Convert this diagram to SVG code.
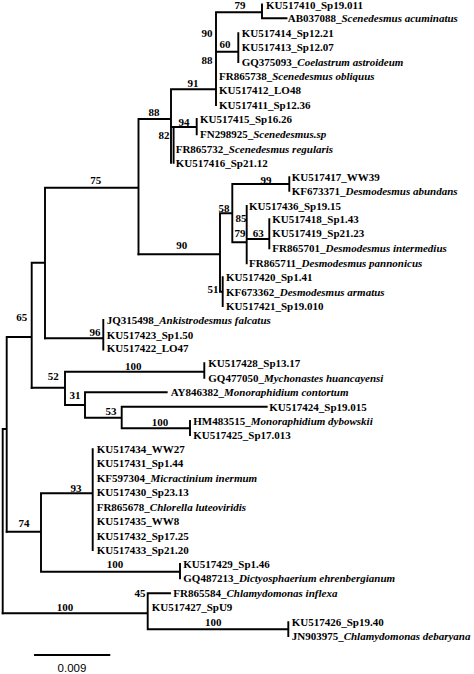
<svg xmlns="http://www.w3.org/2000/svg" width="474" height="674" viewBox="0 0 474 674">
<style>
text{font-family:"Liberation Serif","Times New Roman",serif;font-weight:bold;font-size:11px;fill:#000}
.bs{text-anchor:middle}
.i{font-style:italic}
.br{fill:none;stroke:#000;stroke-width:1.9;stroke-linecap:square}
.sc{font-family:"Liberation Sans",Arial,sans-serif;font-weight:normal;font-size:11.5px;text-anchor:middle}
</style>
<rect width="474" height="674" fill="#fff"/>
<g id="connectors" class="br">
<path d="M2.7,429V613.3M2.7,429H6.7M6.7,337V531.7M6.7,337H31.7M31.7,262.7V387.7M31.7,262.7H45M45,187.7V338.3M45,187.7H138.5M138.5,119V254.3M138.5,119H171M171,89.3V162.7M171,89.3H216M216,12.3V105M216,12.3H262M262,4.5V18.3M262,18.3H286.5M216,51.7H238.3M238.3,33.3V62M171,127H196.7M173.6,127V162.7M196.7,119V134.3"/>
<path d="M138.5,254.3H220M220,213.3V291.7M220,291.7H222.7M222.7,277.3V306M220,213.3H232.3M232.3,184V242.3M232.3,184H289.3M289.3,177.3V190.7M232.3,242.3H246.7M246.7,206V263.3M246.7,239H269.3M269.3,219.3V248.3"/>
<path d="M45,338.3H103.3M103.3,320V349.5M31.7,387.7H65M65,371.7V405M65,371.7H204.3M204.3,363.3V377.7M65,405H85M85,392.3V417.7M85,392.3H166.7M85,417.7H121.7M121.7,406.7V428.3M121.7,406.7H266.7M121.7,428.3H190M190,421V435"/>
<path d="M6.7,531.7H41M41,493.3V571.7M41,493.3H92.7M92.7,449.3V550M41,571.7H180M180,564V578.3M2.7,613.3H147.7M147.7,593.3V629.3M147.7,593.3H170M147.7,629.3H288.3M288.3,622.3V636"/>
<path d="M35,655H109.3"/>
</g>
<g id="support">
<text class="bs" x="240" y="9">79</text>
<text class="bs" x="207" y="37">90</text>
<text class="bs" x="207" y="64">88</text>
<text class="bs" x="225" y="48">60</text>
<text class="bs" x="193" y="86.5">91</text>
<text class="bs" x="154" y="115.5">88</text>
<text class="bs" x="184" y="125.5">94</text>
<text class="bs" x="164" y="138.5">82</text>
<text class="bs" x="95.7" y="184">75</text>
<text class="bs" x="181.7" y="249">90</text>
<text class="bs" x="224" y="211.5">58</text>
<text class="bs" x="266" y="183.5">99</text>
<text class="bs" x="241" y="222">85</text>
<text class="bs" x="240" y="237">79</text>
<text class="bs" x="258.3" y="236.5">63</text>
<text class="bs" x="213" y="293">51</text>
<text class="bs" x="95" y="335.5">96</text>
<text class="bs" x="21.7" y="320.5">65</text>
<text class="bs" x="53.3" y="380">52</text>
<text class="bs" x="133.3" y="369.5">100</text>
<text class="bs" x="75" y="399">31</text>
<text class="bs" x="111" y="414.5">53</text>
<text class="bs" x="160" y="425.5">100</text>
<text class="bs" x="76" y="492">93</text>
<text class="bs" x="24" y="527">74</text>
<text class="bs" x="115" y="568">100</text>
<text class="bs" x="140" y="596.5">45</text>
<text class="bs" x="65" y="611">100</text>
<text class="bs" x="213.3" y="625.5">100</text>
</g>
<g id="KU517410"><text x="266" y="9">KU517410_Sp19.011</text></g>
<g id="AB037088"><text x="287.7" y="22">AB037088_<tspan class="i">Scenedesmus acuminatus</tspan></text></g>
<g id="KU517414"><text x="241.7" y="37">KU517414_Sp12.21</text></g>
<g id="KU517413"><text x="241.7" y="51">KU517413_Sp12.07</text></g>
<g id="GQ375093"><text x="241.7" y="65.5">GQ375093_<tspan class="i">Coelastrum astroideum</tspan></text></g>
<g id="FR865738"><text x="219" y="80">FR865738_<tspan class="i">Scenedesmus obliquus</tspan></text></g>
<g id="KU517412"><text x="219" y="94">KU517412_LO48</text></g>
<g id="KU517411"><text x="219" y="108.5">KU517411_Sp12.36</text></g>
<g id="KU517415"><text x="200" y="123">KU517415_Sp16.26</text></g>
<g id="FN298925"><text x="200" y="138">FN298925_<tspan class="i">Scenedesmus.sp</tspan></text></g>
<g id="FR865732"><text x="175.7" y="152.5">FR865732_<tspan class="i">Scenedesmus regularis</tspan></text></g>
<g id="KU517416"><text x="175.7" y="166.5">KU517416_Sp21.12</text></g>
<g id="KU517417"><text x="291.7" y="181">KU517417_WW39</text></g>
<g id="KF673371"><text x="291.7" y="194.5">KF673371_<tspan class="i">Desmodesmus abundans</tspan></text></g>
<g id="KU517436"><text x="249" y="210">KU517436_Sp19.15</text></g>
<g id="KU517418"><text x="272.3" y="223">KU517418_Sp1.43</text></g>
<g id="KU517419"><text x="272.3" y="237">KU517419_Sp21.23</text></g>
<g id="FR865701"><text x="272.3" y="252">FR865701_<tspan class="i">Desmodesmus intermedius</tspan></text></g>
<g id="FR865711"><text x="249" y="267">FR865711_<tspan class="i">Desmodesmus pannonicus</tspan></text></g>
<g id="KU517420"><text x="226" y="281">KU517420_Sp1.41</text></g>
<g id="KF673362"><text x="226" y="295.5">KF673362_<tspan class="i">Desmodesmus armatus</tspan></text></g>
<g id="KU517421"><text x="226" y="310">KU517421_Sp19.010</text></g>
<g id="JQ315498"><text x="106.7" y="324">JQ315498_<tspan class="i">Ankistrodesmus falcatus</tspan></text></g>
<g id="KU517423"><text x="106.7" y="339">KU517423_Sp1.50</text></g>
<g id="KU517422"><text x="106.7" y="352">KU517422_LO47</text></g>
<g id="KU517428"><text x="208.3" y="367">KU517428_Sp13.17</text></g>
<g id="GQ477050"><text x="208.3" y="381.5">GQ477050_<tspan class="i">Mychonastes huancayensi</tspan></text></g>
<g id="AY846382"><text x="170.7" y="396">AY846382_<tspan class="i">Monoraphidium contortum</tspan></text></g>
<g id="KU517424"><text x="269.3" y="410.5">KU517424_Sp19.015</text></g>
<g id="HM483515"><text x="193.3" y="425">HM483515_<tspan class="i">Monoraphidium dybowskii</tspan></text></g>
<g id="KU517425"><text x="193.3" y="439">KU517425_Sp17.013</text></g>
<g id="KU517434"><text x="96.7" y="453">KU517434_WW27</text></g>
<g id="KU517431"><text x="96.7" y="467">KU517431_Sp1.44</text></g>
<g id="KF597304"><text x="96.7" y="482">KF597304_<tspan class="i">Micractinium inermum</tspan></text></g>
<g id="KU517430"><text x="96.7" y="496">KU517430_Sp23.13</text></g>
<g id="FR865678"><text x="96.7" y="511">FR865678_<tspan class="i">Chlorella luteoviridis</tspan></text></g>
<g id="KU517435"><text x="96.7" y="525">KU517435_WW8</text></g>
<g id="KU517432"><text x="96.7" y="539.5">KU517432_Sp17.25</text></g>
<g id="KU517433"><text x="96.7" y="554">KU517433_Sp21.20</text></g>
<g id="KU517429"><text x="183.3" y="568">KU517429_Sp1.46</text></g>
<g id="GQ487213"><text x="183.3" y="582">GQ487213_<tspan class="i">Dictyosphaerium ehrenbergianum</tspan></text></g>
<g id="FR865584"><text x="173.3" y="597">FR865584_<tspan class="i">Chlamydomonas inflexa</tspan></text></g>
<g id="KU517427"><text x="151.7" y="611">KU517427_SpU9</text></g>
<g id="KU517426"><text x="291.7" y="626">KU517426_Sp19.40</text></g>
<g id="JN903975"><text x="291.7" y="640">JN903975_<tspan class="i">Chlamydomonas debaryana</tspan></text></g>
<g id="scale"><text class="sc" x="72" y="672">0.009</text></g>
</svg>
